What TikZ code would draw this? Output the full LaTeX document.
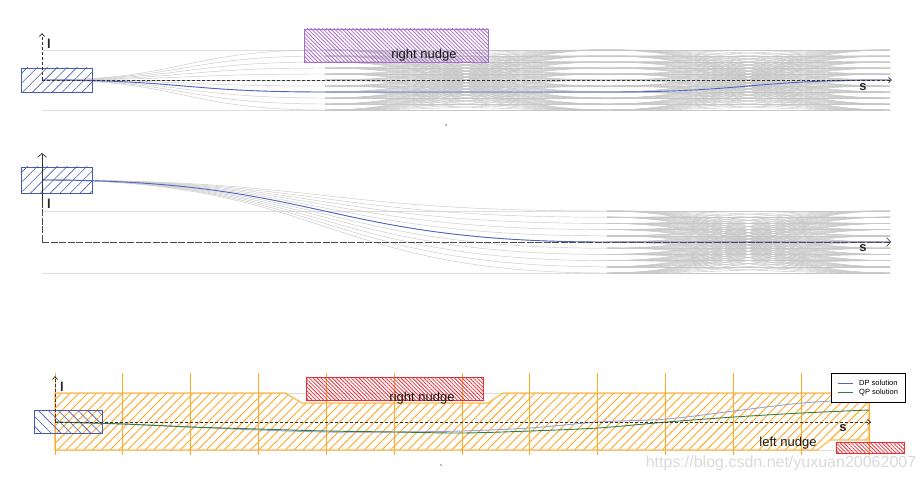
\documentclass[tikz,border=0pt]{standalone}
\usepackage{fontspec}
\setmainfont{Liberation Sans}
\usepackage{tikz}
\usetikzlibrary{patterns.meta,arrows.meta}
\definecolor{egoblue}{RGB}{70,90,180}
\definecolor{dpblue}{RGB}{80,100,195}
\definecolor{qpgreen}{RGB}{50,125,70}
\definecolor{nudgepurple}{RGB}{170,110,200}
\definecolor{nudgered}{RGB}{232,45,55}
\definecolor{bandorange}{RGB}{255,168,35}
\def\lanecurve(#1,#2)(#3,#4){\draw[samplecurve] (#1,#2) .. controls ({(#1+#3)/2},#2) and ({(#1+#3)/2},#4) .. (#3,#4);}
\tikzset{
	samplecurve/.style={line width=0.45pt, color=black!22},
	laneline/.style={line width=0.6pt, color=black!13},
	axisdash/.style={line width=0.7pt, color=black!80, dash pattern=on 3pt off 2pt, -{Straight Barb[length=3pt,width=5pt]}},
	axislong/.style={line width=0.7pt, color=black!70, dash pattern=on 7pt off 1.5pt},
	egobox/.style={draw=egoblue, line width=0.7pt, pattern={Lines[angle=#1,distance=7pt,line width=0.6pt]}, pattern color=egoblue},
	nudgebox/.style={draw=#1, line width=0.6pt, pattern={Lines[angle=-45,distance=2.7pt,line width=0.8pt]}, pattern color=#1},
	bandline/.style={draw=bandorange!80, line width=1.2pt, pattern={Lines[angle=45,distance=6.2pt,line width=0.9pt]}, pattern color=bandorange},
	bandtick/.style={draw=bandorange, line width=0.9pt},
	nudgetext/.style={font=\fontsize{13}{15}\selectfont, text=black!90, inner sep=0pt},
	axistext/.style={font=\fontsize{13}{15}\selectfont\bfseries, text=black!85, inner sep=0pt},
	legendtext/.style={font=\fontsize{7.5}{8}\selectfont, inner sep=0pt, anchor=west}
}
\begin{document}
\begin{tikzpicture}[x=1pt,y=-1pt]
			%%%%% START %%%%%
			
			\useasboundingbox (0,0) rectangle (924,481);
			
			% top panel
			\draw[laneline] (42,50) -- (890,50);
			\draw[laneline] (42,110) -- (890,110);
			\foreach \j [evaluate=\j as \yb using 50+6*\j] in {0,...,10}
				{\lanecurve(42,80)(325,\yb)}
			\foreach \i [evaluate=\i as \ya using 50+6*\i] in {0,...,10}
				{\foreach \j [evaluate=\j as \yb using 50+6*\j] in {0,...,10}
					{\lanecurve(325,\ya)(607,\yb)\lanecurve(607,\ya)(890,\yb)}}
			
			\draw[nudgebox=nudgepurple] (304,29) rectangle (488,62);
			\draw[egobox=45] (21,68) rectangle (92,92);
			
			\draw[line width=0.9pt, color=dpblue] (42,80) .. controls (183.5,80) and (183.5,92) .. (325,92) -- (607,92) .. controls (748.5,92) and (748.5,80) .. (890,80);
			\draw[axisdash] (42,80) -- (42,33);
			\draw[axisdash] (42,80) -- (892,80);
			
			\node[axistext] (ltop) at (49,44) {l};
			\node[axistext] (stop) at (863,87) {s};
			\node[nudgetext] (rightnudgetop) at (424,55) {right nudge};
			\fill[black!55] (446,125) circle (0.9);
			
			% middle panel
			\draw[laneline] (42,211) -- (890,211);
			\draw[laneline] (42,273) -- (890,273);
			\foreach \j [evaluate=\j as \yb using 211+6.2*\j] in {0,...,10}
				{\lanecurve(42,180)(607,\yb)}
			\foreach \i [evaluate=\i as \ya using 211+6.2*\i] in {0,...,10}
				{\foreach \j [evaluate=\j as \yb using 211+6.2*\j] in {0,...,10}
					{\lanecurve(607,\ya)(890,\yb)}}
			
			\draw[egobox=45] (21,167) rectangle (92,193);
			\draw[line width=0.9pt, color=dpblue] (42,180) .. controls (324.5,180) and (324.5,242) .. (607,242) -- (890,242);
			\draw[axislong] (42,242) -- (888,242);
			\draw[line width=0.7pt, color=black!70, -{Straight Barb[length=4pt,width=9pt]}] (886,242) -- (891,242);
			\draw[axislong] (42,242) -- (42,207);
			\draw[line width=0.7pt, color=black!80, -{Straight Barb[length=4pt,width=9pt]}] (42,207) -- (42,153);
			
			\node[axistext] (lmid) at (49,204) {l};
			\node[axistext] (smid) at (863,248) {s};
			
			% bottom panel
			\draw[laneline] (55,393) -- (869,393);
			\draw[laneline] (55,450) -- (869,450);
			\draw[bandline] (55,393) -- (285,393) -- (302,403) -- (488,403) -- (503,393) -- (869,393) -- (869,440) -- (830,440) -- (817,450) -- (55,450) -- cycle;
			\foreach \k in {0,...,12}
				{\draw[bandtick] ({55+67.83*\k},373) -- ({55+67.83*\k},455);}
			
			\draw[egobox=-45] (34,410) rectangle (102,433);
			\draw[nudgebox=nudgered] (306,377) rectangle (483,400);
			\draw[nudgebox=nudgered] (836,442) rectangle (904,453);
			
			\draw[line width=0.9pt, color=dpblue!60] plot[smooth] coordinates {(55,422) (123,424) (191,427) (258,430) (327,432) (395,432) (462,431) (530,428) (598,422) (667,419) (734,411) (802,403) (869,399)};
			\draw[line width=0.9pt, color=qpgreen] plot[smooth] coordinates {(55,422) (123,424) (191,427) (258,429) (327,431) (395,432) (462,433) (530,431) (598,428) (667,422) (734,417) (802,413) (869,410)};
			\draw[axisdash] (55,422) -- (871,422);
			\draw[axisdash] (55,422) -- (55,376);
			
			\node[axistext] (lbot) at (62,387) {l};
			\node[axistext] (sbot) at (843,428) {s};
			\node[nudgetext] (rightnudgebot) at (422,398) {right nudge};
			\node[nudgetext] (leftnudge) at (788,443) {left nudge};
			\fill[black!55] (441,465) circle (0.9);
			
			\draw[fill=white, line width=0.5pt] (831,373) rectangle (905,402);
			\draw[line width=0.8pt, color=dpblue] (838,383) -- (853,383);
			\draw[line width=0.8pt, color=qpgreen] (838,392) -- (853,392);
			\node[legendtext] (dplegend) at (859,383) {DP solution};
			\node[legendtext] (qplegend) at (859,392) {QP solution};
			
			\node[font=\fontsize{16}{18}\selectfont, text=black!15, inner sep=0pt] (watermark) at (781,463) {https://blog.csdn.net/yuxuan20062007};
			
			%%%%% END %%%%%
\end{tikzpicture}
\end{document}
